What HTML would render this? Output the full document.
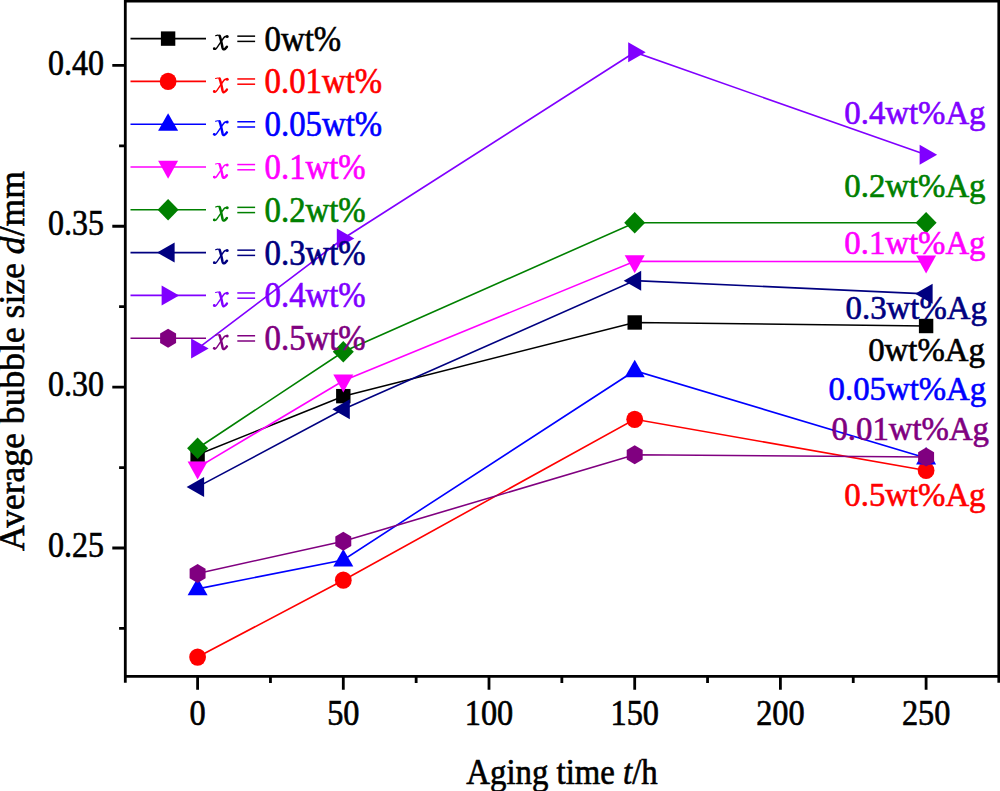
<!DOCTYPE html>
<html><head><meta charset="utf-8"><style>
html,body{margin:0;padding:0;background:#fff;width:1000px;height:791px;overflow:hidden}
svg{display:block}
text{font-family:"Liberation Serif",serif}
</style></head><body>
<svg width="1000" height="791" viewBox="0 0 1000 791">

<polyline points="197.60,454.71 343.30,396.15 634.70,322.47 926.10,326.01" fill="none" stroke="#000000" stroke-width="1.6" stroke-linejoin="miter"/>
<rect x="190.40" y="447.51" width="14.40" height="14.40" fill="#000000"/>
<rect x="336.10" y="388.95" width="14.40" height="14.40" fill="#000000"/>
<rect x="627.50" y="315.27" width="14.40" height="14.40" fill="#000000"/>
<rect x="918.90" y="318.81" width="14.40" height="14.40" fill="#000000"/>
<polyline points="197.60,657.08 343.30,580.18 634.70,419.31 926.10,470.47" fill="none" stroke="#FF0000" stroke-width="1.6" stroke-linejoin="miter"/>
<ellipse cx="197.60" cy="657.08" rx="8.40" ry="8.65" fill="#FF0000"/>
<ellipse cx="343.30" cy="580.18" rx="8.40" ry="8.65" fill="#FF0000"/>
<ellipse cx="634.70" cy="419.31" rx="8.40" ry="8.65" fill="#FF0000"/>
<ellipse cx="926.10" cy="470.47" rx="8.40" ry="8.65" fill="#FF0000"/>
<polyline points="197.60,588.87 343.30,559.91 634.70,370.73 926.10,457.92" fill="none" stroke="#0000FF" stroke-width="1.6" stroke-linejoin="miter"/>
<polygon points="197.60,577.87 207.60,595.37 187.60,595.37" fill="#0000FF"/>
<polygon points="343.30,548.91 353.30,566.41 333.30,566.41" fill="#0000FF"/>
<polygon points="634.70,359.73 644.70,377.23 624.70,377.23" fill="#0000FF"/>
<polygon points="926.10,446.92 936.10,464.42 916.10,464.42" fill="#0000FF"/>
<polyline points="197.60,467.58 343.30,380.71 634.70,261.34 926.10,261.66" fill="none" stroke="#FF00FF" stroke-width="1.6" stroke-linejoin="miter"/>
<polygon points="187.60,461.38 207.60,461.38 197.60,479.38" fill="#FF00FF"/>
<polygon points="333.30,374.51 353.30,374.51 343.30,392.51" fill="#FF00FF"/>
<polygon points="624.70,255.14 644.70,255.14 634.70,273.14" fill="#FF00FF"/>
<polygon points="916.10,255.46 936.10,255.46 926.10,273.46" fill="#FF00FF"/>
<polyline points="197.60,448.27 343.30,351.75 634.70,222.73 926.10,222.73" fill="none" stroke="#008000" stroke-width="1.6" stroke-linejoin="miter"/>
<polygon points="197.60,437.46 208.10,448.27 197.60,459.09 187.10,448.27" fill="#008000"/>
<polygon points="343.30,340.93 353.80,351.75 343.30,362.56 332.80,351.75" fill="#008000"/>
<polygon points="634.70,211.92 645.20,222.73 634.70,233.55 624.20,222.73" fill="#008000"/>
<polygon points="926.10,211.92 936.60,222.73 926.10,233.55 915.60,222.73" fill="#008000"/>
<polyline points="197.60,486.88 343.30,409.34 634.70,280.64 926.10,293.84" fill="none" stroke="#000080" stroke-width="1.6" stroke-linejoin="miter"/>
<polygon points="186.60,486.88 204.10,476.88 204.10,496.88" fill="#000080"/>
<polygon points="332.30,409.34 349.80,399.34 349.80,419.34" fill="#000080"/>
<polygon points="623.70,280.64 641.20,270.64 641.20,290.64" fill="#000080"/>
<polygon points="915.10,293.84 932.60,283.84 932.60,303.84" fill="#000080"/>
<polyline points="197.60,348.53 343.30,238.50 634.70,52.21 926.10,154.84" fill="none" stroke="#8000FF" stroke-width="1.6" stroke-linejoin="miter"/>
<polygon points="208.60,348.53 191.10,338.53 191.10,358.53" fill="#8000FF"/>
<polygon points="354.30,238.50 336.80,228.50 336.80,248.50" fill="#8000FF"/>
<polygon points="645.70,52.21 628.20,42.21 628.20,62.21" fill="#8000FF"/>
<polygon points="937.10,154.84 919.60,144.84 919.60,164.84" fill="#8000FF"/>
<polyline points="197.60,573.43 343.30,541.25 634.70,454.71 926.10,456.96" fill="none" stroke="#800080" stroke-width="1.6" stroke-linejoin="miter"/>
<polygon points="197.60,563.93 205.58,568.68 205.58,578.18 197.60,582.93 189.62,578.18 189.62,568.68" fill="#800080"/>
<polygon points="343.30,531.75 351.28,536.50 351.28,546.00 343.30,550.75 335.32,546.00 335.32,536.50" fill="#800080"/>
<polygon points="634.70,445.21 642.68,449.96 642.68,459.46 634.70,464.21 626.72,459.46 626.72,449.96" fill="#800080"/>
<polygon points="926.10,447.46 934.08,452.21 934.08,461.71 926.10,466.46 918.12,461.71 918.12,452.21" fill="#800080"/>
<path d="M125.3,1.1 H998.8 M998.8,0 V682.8 M125.3,0 V682.8 M124,676.3 H1000" fill="none" stroke="#000" stroke-width="2.8"/>
<path d="M197.60,676.3 V689.7 M343.30,676.3 V689.7 M489.00,676.3 V689.7 M634.70,676.3 V689.7 M780.40,676.3 V689.7 M926.10,676.3 V689.7 M270.45,676.3 V683 M416.15,676.3 V683 M561.85,676.3 V683 M707.55,676.3 V683 M853.25,676.3 V683 M125.3,548.01 H112.3 M125.3,387.14 H112.3 M125.3,226.27 H112.3 M125.3,65.40 H112.3 M125.3,628.45 H119.1 M125.3,467.58 H119.1 M125.3,306.71 H119.1 M125.3,145.84 H119.1" fill="none" stroke="#000" stroke-width="2.8"/>
<text transform="translate(197.60,724.50) scale(1,1.08)" font-size="32.3" fill="#000" stroke="#000" stroke-width="0.6" text-anchor="middle">0</text>
<text transform="translate(343.30,724.50) scale(1,1.08)" font-size="32.3" fill="#000" stroke="#000" stroke-width="0.6" text-anchor="middle">50</text>
<text transform="translate(489.00,724.50) scale(1,1.08)" font-size="32.3" fill="#000" stroke="#000" stroke-width="0.6" text-anchor="middle">100</text>
<text transform="translate(634.70,724.50) scale(1,1.08)" font-size="32.3" fill="#000" stroke="#000" stroke-width="0.6" text-anchor="middle">150</text>
<text transform="translate(780.40,724.50) scale(1,1.08)" font-size="32.3" fill="#000" stroke="#000" stroke-width="0.6" text-anchor="middle">200</text>
<text transform="translate(926.10,724.50) scale(1,1.08)" font-size="32.3" fill="#000" stroke="#000" stroke-width="0.6" text-anchor="middle">250</text>
<text transform="translate(103.90,557.11) scale(1,1.12)" font-size="32.0" fill="#000" stroke="#000" stroke-width="0.6" text-anchor="end">0.25</text>
<text transform="translate(103.90,396.24) scale(1,1.12)" font-size="32.0" fill="#000" stroke="#000" stroke-width="0.6" text-anchor="end">0.30</text>
<text transform="translate(103.90,235.37) scale(1,1.12)" font-size="32.0" fill="#000" stroke="#000" stroke-width="0.6" text-anchor="end">0.35</text>
<text transform="translate(103.90,74.50) scale(1,1.12)" font-size="32.0" fill="#000" stroke="#000" stroke-width="0.6" text-anchor="end">0.40</text>
<text transform="translate(562.00,783.50) scale(1,1.08)" font-size="32.8" fill="#000" stroke="#000" stroke-width="0.6" text-anchor="middle">Aging time <tspan font-style="italic">t</tspan>/h</text>
<text transform="translate(24,361.0) rotate(-90) scale(1.047,1.03)" font-size="34" fill="#000" stroke="#000" stroke-width="0.6" text-anchor="middle">Average bubble size <tspan font-style="italic">d</tspan>/mm</text>
<line x1="130.5" y1="38.60" x2="206" y2="38.60" stroke="#000000" stroke-width="1.6"/>
<rect x="160.90" y="31.40" width="14.40" height="14.40" fill="#000000"/>
<g transform="translate(210,31.20)" fill="none" stroke="#000000" stroke-linecap="round"><path d="M5.6,4.5 Q7.6,3.6 9.4,4.2" stroke-width="1.1"/><path d="M9.6,4.6 C10.8,7.5 11.8,13 12.6,16.8 C13.1,18.9 14.8,18.6 16.9,15.6" stroke-width="2.5"/><path d="M17.3,5.3 C15.4,4.3 13.6,6.2 12.1,8.9 L7.0,16.4 C5.9,18.1 4.6,18.8 3.9,17.4" stroke-width="1.4"/><circle cx="17.2" cy="5.3" r="1.5" fill="#000000" stroke="none"/><circle cx="4.3" cy="17.5" r="1.4" fill="#000000" stroke="none"/></g>
<rect x="237.3" y="35.40" width="17.8" height="1.5" fill="#000000"/><rect x="237.3" y="40.65" width="17.8" height="1.5" fill="#000000"/>
<text transform="translate(264.6,50.60) scale(1,1.08)" font-size="32.8" fill="#000000" stroke="#000000" stroke-width="0.6">0wt%</text>
<line x1="130.5" y1="81.40" x2="206" y2="81.40" stroke="#FF0000" stroke-width="1.6"/>
<ellipse cx="168.10" cy="81.40" rx="8.40" ry="8.65" fill="#FF0000"/>
<g transform="translate(210,74.00)" fill="none" stroke="#FF0000" stroke-linecap="round"><path d="M5.6,4.5 Q7.6,3.6 9.4,4.2" stroke-width="1.1"/><path d="M9.6,4.6 C10.8,7.5 11.8,13 12.6,16.8 C13.1,18.9 14.8,18.6 16.9,15.6" stroke-width="2.5"/><path d="M17.3,5.3 C15.4,4.3 13.6,6.2 12.1,8.9 L7.0,16.4 C5.9,18.1 4.6,18.8 3.9,17.4" stroke-width="1.4"/><circle cx="17.2" cy="5.3" r="1.5" fill="#FF0000" stroke="none"/><circle cx="4.3" cy="17.5" r="1.4" fill="#FF0000" stroke="none"/></g>
<rect x="237.3" y="78.20" width="17.8" height="1.5" fill="#FF0000"/><rect x="237.3" y="83.45" width="17.8" height="1.5" fill="#FF0000"/>
<text transform="translate(264.6,93.40) scale(1,1.08)" font-size="32.8" fill="#FF0000" stroke="#FF0000" stroke-width="0.6">0.01wt%</text>
<line x1="130.5" y1="124.20" x2="206" y2="124.20" stroke="#0000FF" stroke-width="1.6"/>
<polygon points="168.10,113.20 178.10,130.70 158.10,130.70" fill="#0000FF"/>
<g transform="translate(210,116.80)" fill="none" stroke="#0000FF" stroke-linecap="round"><path d="M5.6,4.5 Q7.6,3.6 9.4,4.2" stroke-width="1.1"/><path d="M9.6,4.6 C10.8,7.5 11.8,13 12.6,16.8 C13.1,18.9 14.8,18.6 16.9,15.6" stroke-width="2.5"/><path d="M17.3,5.3 C15.4,4.3 13.6,6.2 12.1,8.9 L7.0,16.4 C5.9,18.1 4.6,18.8 3.9,17.4" stroke-width="1.4"/><circle cx="17.2" cy="5.3" r="1.5" fill="#0000FF" stroke="none"/><circle cx="4.3" cy="17.5" r="1.4" fill="#0000FF" stroke="none"/></g>
<rect x="237.3" y="121.00" width="17.8" height="1.5" fill="#0000FF"/><rect x="237.3" y="126.25" width="17.8" height="1.5" fill="#0000FF"/>
<text transform="translate(264.6,136.20) scale(1,1.08)" font-size="32.8" fill="#0000FF" stroke="#0000FF" stroke-width="0.6">0.05wt%</text>
<line x1="130.5" y1="167.00" x2="206" y2="167.00" stroke="#FF00FF" stroke-width="1.6"/>
<polygon points="158.10,160.80 178.10,160.80 168.10,178.80" fill="#FF00FF"/>
<g transform="translate(210,159.60)" fill="none" stroke="#FF00FF" stroke-linecap="round"><path d="M5.6,4.5 Q7.6,3.6 9.4,4.2" stroke-width="1.1"/><path d="M9.6,4.6 C10.8,7.5 11.8,13 12.6,16.8 C13.1,18.9 14.8,18.6 16.9,15.6" stroke-width="2.5"/><path d="M17.3,5.3 C15.4,4.3 13.6,6.2 12.1,8.9 L7.0,16.4 C5.9,18.1 4.6,18.8 3.9,17.4" stroke-width="1.4"/><circle cx="17.2" cy="5.3" r="1.5" fill="#FF00FF" stroke="none"/><circle cx="4.3" cy="17.5" r="1.4" fill="#FF00FF" stroke="none"/></g>
<rect x="237.3" y="163.80" width="17.8" height="1.5" fill="#FF00FF"/><rect x="237.3" y="169.05" width="17.8" height="1.5" fill="#FF00FF"/>
<text transform="translate(264.6,179.00) scale(1,1.08)" font-size="32.8" fill="#FF00FF" stroke="#FF00FF" stroke-width="0.6">0.1wt%</text>
<line x1="130.5" y1="209.80" x2="206" y2="209.80" stroke="#008000" stroke-width="1.6"/>
<polygon points="168.10,198.98 178.60,209.80 168.10,220.61 157.60,209.80" fill="#008000"/>
<g transform="translate(210,202.40)" fill="none" stroke="#008000" stroke-linecap="round"><path d="M5.6,4.5 Q7.6,3.6 9.4,4.2" stroke-width="1.1"/><path d="M9.6,4.6 C10.8,7.5 11.8,13 12.6,16.8 C13.1,18.9 14.8,18.6 16.9,15.6" stroke-width="2.5"/><path d="M17.3,5.3 C15.4,4.3 13.6,6.2 12.1,8.9 L7.0,16.4 C5.9,18.1 4.6,18.8 3.9,17.4" stroke-width="1.4"/><circle cx="17.2" cy="5.3" r="1.5" fill="#008000" stroke="none"/><circle cx="4.3" cy="17.5" r="1.4" fill="#008000" stroke="none"/></g>
<rect x="237.3" y="206.60" width="17.8" height="1.5" fill="#008000"/><rect x="237.3" y="211.85" width="17.8" height="1.5" fill="#008000"/>
<text transform="translate(264.6,221.80) scale(1,1.08)" font-size="32.8" fill="#008000" stroke="#008000" stroke-width="0.6">0.2wt%</text>
<line x1="130.5" y1="252.60" x2="206" y2="252.60" stroke="#000080" stroke-width="1.6"/>
<polygon points="157.10,252.60 174.60,242.60 174.60,262.60" fill="#000080"/>
<g transform="translate(210,245.20)" fill="none" stroke="#000080" stroke-linecap="round"><path d="M5.6,4.5 Q7.6,3.6 9.4,4.2" stroke-width="1.1"/><path d="M9.6,4.6 C10.8,7.5 11.8,13 12.6,16.8 C13.1,18.9 14.8,18.6 16.9,15.6" stroke-width="2.5"/><path d="M17.3,5.3 C15.4,4.3 13.6,6.2 12.1,8.9 L7.0,16.4 C5.9,18.1 4.6,18.8 3.9,17.4" stroke-width="1.4"/><circle cx="17.2" cy="5.3" r="1.5" fill="#000080" stroke="none"/><circle cx="4.3" cy="17.5" r="1.4" fill="#000080" stroke="none"/></g>
<rect x="237.3" y="249.40" width="17.8" height="1.5" fill="#000080"/><rect x="237.3" y="254.65" width="17.8" height="1.5" fill="#000080"/>
<text transform="translate(264.6,264.60) scale(1,1.08)" font-size="32.8" fill="#000080" stroke="#000080" stroke-width="0.6">0.3wt%</text>
<line x1="130.5" y1="295.40" x2="206" y2="295.40" stroke="#8000FF" stroke-width="1.6"/>
<polygon points="179.10,295.40 161.60,285.40 161.60,305.40" fill="#8000FF"/>
<g transform="translate(210,288.00)" fill="none" stroke="#8000FF" stroke-linecap="round"><path d="M5.6,4.5 Q7.6,3.6 9.4,4.2" stroke-width="1.1"/><path d="M9.6,4.6 C10.8,7.5 11.8,13 12.6,16.8 C13.1,18.9 14.8,18.6 16.9,15.6" stroke-width="2.5"/><path d="M17.3,5.3 C15.4,4.3 13.6,6.2 12.1,8.9 L7.0,16.4 C5.9,18.1 4.6,18.8 3.9,17.4" stroke-width="1.4"/><circle cx="17.2" cy="5.3" r="1.5" fill="#8000FF" stroke="none"/><circle cx="4.3" cy="17.5" r="1.4" fill="#8000FF" stroke="none"/></g>
<rect x="237.3" y="292.20" width="17.8" height="1.5" fill="#8000FF"/><rect x="237.3" y="297.45" width="17.8" height="1.5" fill="#8000FF"/>
<text transform="translate(264.6,307.40) scale(1,1.08)" font-size="32.8" fill="#8000FF" stroke="#8000FF" stroke-width="0.6">0.4wt%</text>
<line x1="130.5" y1="338.20" x2="206" y2="338.20" stroke="#800080" stroke-width="1.6"/>
<polygon points="168.10,328.70 176.08,333.45 176.08,342.95 168.10,347.70 160.12,342.95 160.12,333.45" fill="#800080"/>
<g transform="translate(210,330.80)" fill="none" stroke="#800080" stroke-linecap="round"><path d="M5.6,4.5 Q7.6,3.6 9.4,4.2" stroke-width="1.1"/><path d="M9.6,4.6 C10.8,7.5 11.8,13 12.6,16.8 C13.1,18.9 14.8,18.6 16.9,15.6" stroke-width="2.5"/><path d="M17.3,5.3 C15.4,4.3 13.6,6.2 12.1,8.9 L7.0,16.4 C5.9,18.1 4.6,18.8 3.9,17.4" stroke-width="1.4"/><circle cx="17.2" cy="5.3" r="1.5" fill="#800080" stroke="none"/><circle cx="4.3" cy="17.5" r="1.4" fill="#800080" stroke="none"/></g>
<rect x="237.3" y="335.00" width="17.8" height="1.5" fill="#800080"/><rect x="237.3" y="340.25" width="17.8" height="1.5" fill="#800080"/>
<text transform="translate(264.6,350.20) scale(1,1.08)" font-size="32.8" fill="#800080" stroke="#800080" stroke-width="0.6">0.5wt%</text>
<text transform="translate(985.50,124.10) scale(1,1.0)" font-size="32.8" fill="#8000FF" stroke="#8000FF" stroke-width="0.6" text-anchor="end">0.4wt%Ag</text>
<text transform="translate(985.50,197.00) scale(1,1.0)" font-size="32.8" fill="#008000" stroke="#008000" stroke-width="0.6" text-anchor="end">0.2wt%Ag</text>
<text transform="translate(985.50,253.90) scale(1,1.0)" font-size="32.8" fill="#FF00FF" stroke="#FF00FF" stroke-width="0.6" text-anchor="end">0.1wt%Ag</text>
<text transform="translate(986.80,318.90) scale(1,1.0)" font-size="32.8" fill="#000080" stroke="#000080" stroke-width="0.6" text-anchor="end">0.3wt%Ag</text>
<text transform="translate(984.80,361.00) scale(1,1.0)" font-size="32.8" fill="#000000" stroke="#000000" stroke-width="0.6" text-anchor="end">0wt%Ag</text>
<text transform="translate(986.20,399.70) scale(1,1.0)" font-size="32.8" fill="#0000FF" stroke="#0000FF" stroke-width="0.6" text-anchor="end">0.05wt%Ag</text>
<text transform="translate(989.00,439.50) scale(1,1.0)" font-size="32.8" fill="#800080" stroke="#800080" stroke-width="0.6" text-anchor="end">0.01wt%Ag</text>
<text transform="translate(985.50,505.60) scale(1,1.0)" font-size="32.8" fill="#FF0000" stroke="#FF0000" stroke-width="0.6" text-anchor="end">0.5wt%Ag</text>
</svg></body></html>
